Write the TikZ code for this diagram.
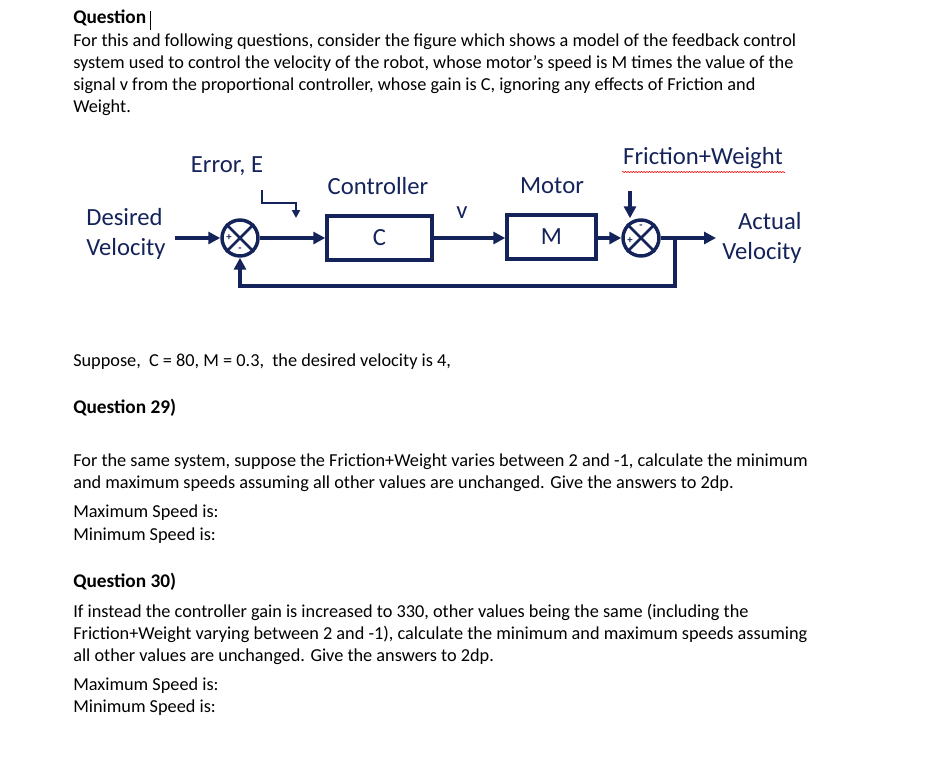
\documentclass[tikz,border=0pt]{standalone}
\usepackage{fontspec}
\setmainfont{Carlito}
\usetikzlibrary{arrows.meta,decorations.pathmorphing}
\begin{document}
\begin{tikzpicture}[x=0.75pt,y=-0.75pt,
  txt/.style={anchor=west,inner sep=0pt,font=\fontsize{13.7}{16}\selectfont},
  btxt/.style={txt,font=\fontsize{14.5}{17}\selectfont\bfseries},
  dl/.style={inner sep=0pt,text=dblue,font=\fontsize{18.5}{22}\selectfont},
  ln/.style={draw=dblue,line width=2.6pt},
  ar/.style={ln,-{Triangle[length=9pt,width=9pt]}},
  blk/.style={draw=dblue,line width=2.6pt,minimum width=#1,minimum height=44*0.75pt,inner sep=0pt,text=dblue,font=\fontsize{18.5}{22}\selectfont},
  sumc/.style={draw=dblue,line width=2.6pt,circle,minimum size=27pt,inner sep=0pt}]
\definecolor{dblue}{RGB}{20,35,90}
\useasboundingbox (0,0) rectangle (933,765);
\node[btxt] (q) at (73,18) {Question};
\draw[line width=0.9pt] ([xshift=3pt,yshift=-1pt]q.north east) -- ([xshift=3pt,yshift=-3pt]q.south east);
\node[txt] (p1) at (73,42) {For this and following questions, consider the figure which shows a model of the feedback control};
\node[txt] (p2) at (73,64) {system used to control the velocity of the robot, whose motor's speed is M times the value of the};
\node[txt] (p3) at (73,86) {signal v from the proportional controller, whose gain is C, ignoring any effects of Friction and};
\node[txt] (p4) at (73,108) {Weight.};
% diagram
\node[sumc] (s1) at (240,238) {};
\node[sumc] (s2) at (641,238) {};
\foreach \s in {s1,s2}{
  \draw[ln,line width=2pt] (\s.north west) -- (\s.south east);
  \draw[ln,line width=2pt] (\s.north east) -- (\s.south west);}
\node[inner sep=0pt,text=dblue,font=\footnotesize\bfseries] (p1s) at (229,238) {+};
\node[inner sep=0pt,text=dblue,font=\footnotesize\bfseries] (m1s) at (240,250) {-};
\node[inner sep=0pt,text=dblue,font=\footnotesize\bfseries] (p2s) at (630,241) {+};
\node[inner sep=0pt,text=dblue,font=\footnotesize\bfseries] (m2s) at (641,227) {-};
\node[blk=105*0.75pt] (C) at (379.5,238) {C};
\node[blk=89*0.75pt] (M) at (551.5,237) {M};
\node[dl,align=left] (dv) at (126,234) {Desired\\Velocity};
\node[dl,align=right] (av) at (762,238) {Actual\\Velocity};
\node[dl] (err) at (227,166) {Error, E};
\node[dl] (ctl) at (378,186) {Controller};
\node[dl] (mot) at (552,186) {Motor};
\node[dl] (v) at (462,213) {v};
\node[dl] (fw) at (703,158) {Friction+Weight};
\draw[red,decorate,decoration={snake,amplitude=0.5pt,segment length=2pt},line width=0.4pt] (622,172) -- (785,172);
\coordinate (in) at (175,238);
\coordinate (out) at (716,238);
\coordinate (fb) at (675,238);
\coordinate (ft) at (630,191);
\coordinate (e0) at (262,190);
\draw[ar] (in) -- (s1.west);
\draw[ar] (s1.east) -- (C.west);
\draw[ar] (C.east) -- (M.west |- C.east);
\draw[ar] (M.east |- s2.west) -- (s2.west);
\draw[ar] (s2.east) -- (out);
\draw[ar] (ft) -- (ft |- s2.north);
\draw[ar] (fb) -- (675,286) -| (s1.south);
\draw[ln,line width=1.8pt,-{Triangle[length=6pt,width=6pt]}] (e0) -- (262,203) -- (296,203) -- (296,218);
\node[txt] (sup) at (73,362) {Suppose,\ \ C = 80, M = 0.3, \ the desired velocity is 4,};
\node[btxt] (q29) at (73,408) {Question 29)};
\node[txt] (a1) at (73,462) {For the same system, suppose the Friction+Weight varies between 2 and -1, calculate the minimum};
\node[txt] (a2) at (73,484) {and maximum speeds assuming all other values are unchanged. Give the answers to 2dp.};
\node[txt] (a3) at (73,513) {Maximum Speed is:};
\node[txt] (a4) at (73,536) {Minimum Speed is:};
\node[btxt] (q30) at (73,582) {Question 30)};
\node[txt] (b1) at (73,612) {If instead the controller gain is increased to 330, other values being the same (including the};
\node[txt] (b2) at (73,634) {Friction+Weight varying between 2 and -1), calculate the minimum and maximum speeds assuming};
\node[txt] (b3) at (73,657) {all other values are unchanged. Give the answers to 2dp.};
\node[txt] (b4) at (73,686) {Maximum Speed is:};
\node[txt] (b5) at (73,708) {Minimum Speed is:};
\end{tikzpicture}
\end{document}
